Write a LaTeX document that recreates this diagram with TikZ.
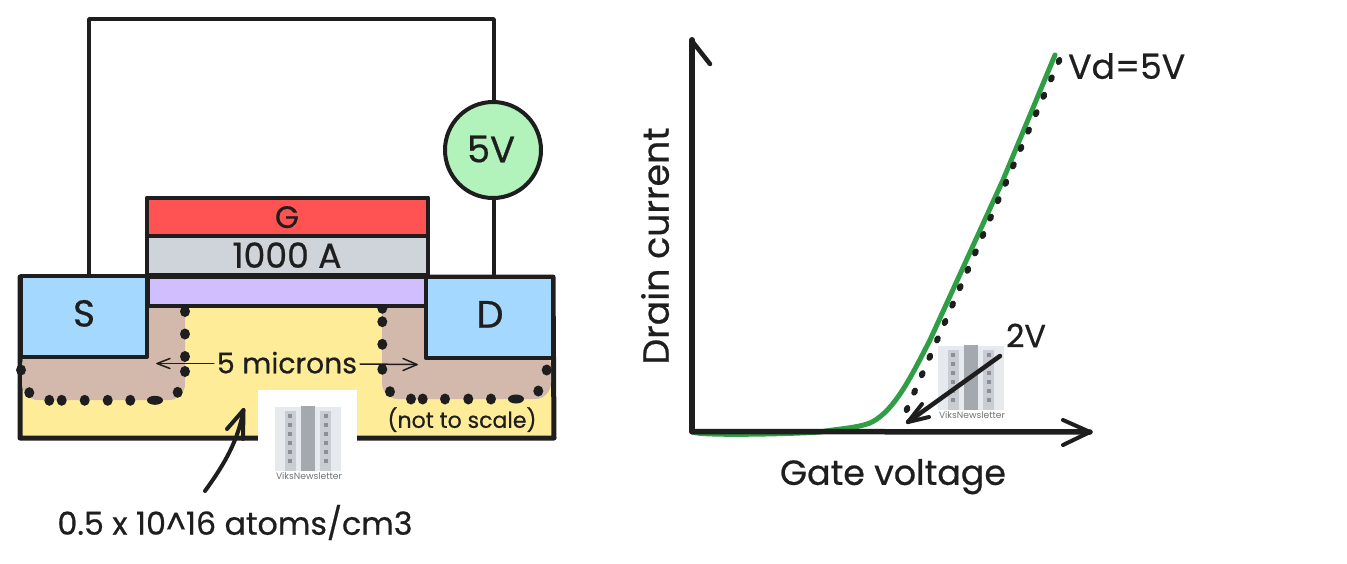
\documentclass[tikz,border=0pt]{standalone}
\usepackage{fontspec}
\usepackage{graphicx}
\setmainfont{Poppins}[FakeBold=0.6]
\newfontfamily\thinfont{Poppins}
\definecolor{ink}{HTML}{1E1E1E}
\definecolor{cyellow}{HTML}{FFEC99}
\definecolor{cbrown}{HTML}{D3B8AC}
\definecolor{cblue}{HTML}{A5D8FF}
\definecolor{cred}{HTML}{FF5252}
\definecolor{cgray}{HTML}{CED4DA}
\definecolor{cpurple}{HTML}{D0BFFF}
\definecolor{cgreen}{HTML}{B2F2BB}
\definecolor{lgreen}{HTML}{2F9E44}
\definecolor{iconbg}{HTML}{E6E9ED}
\definecolor{iconmid}{HTML}{A4A9B0}
\definecolor{iconstrip}{HTML}{C9CCD3}
\definecolor{iconsq}{HTML}{8B8F96}
\newcommand{\fitw}[2]{\resizebox{#1pt}{!}{\strut #2}}
\tikzset{
  txt/.style={text=ink, inner sep=0pt, yshift=-3.5pt},
  layer/.style={draw=ink, line width=4.5pt, line join=round, inner sep=0pt},
  wire/.style={draw=ink, line width=3.5pt, line join=round},
  thickline/.style={draw=ink, line width=4pt, line cap=round, line join=round},
  axisline/.style={draw=ink, line width=6pt, line cap=round, line join=round},
  thinarrow/.style={draw=ink, line width=1.5pt, line cap=round, line join=round},
  dot/.style={fill=ink, draw=none},
}
\newcommand{\viksicon}[2]{%
  \begin{scope}[shift={(#1,#2)}]
    \fill[iconbg] (275,407) rectangle (341,471);
    \fill[iconstrip] (285,411) rectangle (296,471);
    \fill[iconstrip] (320,411) rectangle (331,471);
    \fill[iconmid] (301,406) rectangle (315,471);
    \foreach \yy in {416,425,434,443,452,461}{
      \fill[iconsq] (288.2,\yy-1.7) rectangle (291.6,\yy+1.7);
      \fill[iconsq] (324.2,\yy-1.7) rectangle (327.6,\yy+1.7);
    }
    \node[text=iconsq!80!black, inner sep=0pt] at (309,477.5) {\fitw{66}{\thinfont ViksNewsletter}};
  \end{scope}}
\begin{document}
\begin{tikzpicture}[x=1pt,y=-1pt]
\useasboundingbox (0,0) rectangle (1347,563);
% substrate
\draw[layer, line width=5pt, fill=cyellow] (20,277) -- (553,277) -- (554,438) -- (20,438) -- cycle;
% depletion regions
\fill[cbrown, rounded corners=16pt] (146,300) -- (185,300) -- (185,400) -- (22,400) -- (22,350) -- (146,350) -- cycle;
\fill[cbrown, rounded corners=16pt] (428,300) -- (382,300) -- (382,399) -- (551,399) -- (551,350) -- (428,350) -- cycle;
\foreach \px/\py in {185/311.5,185/334,185/356.5,185/371.5,177.7/392.3,130.3/400.3,107.7/400.3,84.7/400.3,61.7/400.3,49.3/400.3,29.3/392.7,21/370}{
  \fill[dot] (\px,\py) ellipse (5pt and 5.5pt);}
\foreach \px/\py in {382.3/308.3,382.3/321.7,382.3/344.3,382.3/369.3,390/391.7,411/399,422.7/399,445/399,468.3/399,491/399,538.3/391,546.7/370}{
  \fill[dot] (\px,\py) ellipse (5pt and 5.5pt);}
\fill[dot] (155,400.3) ellipse (8pt and 4.5pt);
\fill[dot] (516,399) ellipse (8pt and 4.5pt);
% gate stack
\node[layer, fill=cpurple, minimum width=279pt, minimum height=29pt, anchor=center] (oxide2) at (287.5,291.5) {};
\node[layer, line width=4pt, fill=cgray, minimum width=281pt, minimum height=40pt] (oxide) at (287.5,255.5) {};
\node[layer, line width=4pt, fill=cred, minimum width=281pt, minimum height=38pt] (gate) at (287.5,216.5) {};
\draw[draw=ink, line width=6.5pt] (147,276) -- (428,276);
% source and drain
\node[layer, line width=4pt, fill=cblue, minimum width=126pt, minimum height=81pt] (S) at (84,316.5) {};
\node[layer, line width=4.5pt, fill=cblue, minimum width=127pt, minimum height=81pt] (D) at (489.5,317.5) {};
% battery
\node[circle, draw=ink, line width=4pt, fill=cgreen, minimum size=96pt, inner sep=0pt] (V) at (493,150) {};
\coordinate (wl) at (89,19);
\coordinate (wr) at (494,19);
\draw[wire] (S.north -| wl) -- (wl) -- (wr) -- (V.north -| wr);
\draw[wire] (V.south -| wr) -- (D.north -| wr);
% labels
\node[txt] (lV) at (491,150) {\fitw{48}{5V}};
\node[txt] (lG) at (287,217) {\fitw{24}{G}};
\node[txt] (lA) at (287,256) {\fitw{109}{1000 A}};
\node[txt] (lS) at (84,314) {\fitw{22}{S}};
\node[txt] (lD) at (490,315) {\fitw{27}{D}};
\node[txt] (lM) at (287,363) {\fitw{140}{5 microns}};
\coordinate (ml) at (157,363.5);
\coordinate (mr) at (417,364.5);
\draw[thinarrow] (lM.west) ++(-3,-3) -- (ml);
\draw[thinarrow] (ml) ++(13,-5) -- (ml) -- ++(13,5);
\draw[thinarrow] (lM.east) ++(3,-2.5) -- (mr);
\draw[thinarrow] (mr) ++(-14,-6) -- (mr) -- ++(-14,6);
\node[txt] (lN) at (462,418) {\fitw{149}{(not to scale)}};
% watermark 1
\fill[white] (258,390) rectangle (357,490);
\viksicon{0}{0}
% doping arrow
\node[txt] (lC) at (235,522) {\fitw{355}{0.5 x 10\string^16 atoms/cm3}};
\coordinate (ct) at (243.5,410);
\coordinate (cs) at (205,491);
\draw[thickline] (cs) .. controls (226,462) and (238,440) .. (ct);
\draw[thickline] (227,429) -- (ct) -- (243,439);
% axes
\coordinate (o) at (692,431.5);
\coordinate (ay) at (692,40);
\coordinate (ax) at (1090,432);
\draw[line width=5pt, lgreen, line cap=round, line join=round] (693,432) .. controls (700,436) and (790,434) .. (820,432)
  .. controls (835,429) and (860,428) .. (872,422) .. controls (895,410) and (912,375) .. (930,340) -- (1003,180) -- (1055,55);
\draw[axisline] (ay) -- (o);
\draw[axisline, line width=4.5pt] (ay) ++(0,1) -- (710,64);
\draw[line width=5.5pt, draw=ink, line cap=round, line join=round] (o) -- (ax);
\draw[line width=4pt, draw=ink, line cap=round, line join=round] (1063,420) -- (ax) -- (1063,445);
\foreach \i in {0,...,20}{
  \fill[dot, rotate around={-22:(1059-7.6*\i,61+17.4*\i)}] (1059-7.6*\i,61+17.4*\i) ellipse (3.2pt and 4.2pt);}
\node[txt, rotate=90] (lI) at (660,242.5) {\fitw{237}{Drain current}};
\node[txt] (lX) at (893,473) {\fitw{226}{Gate voltage}};
\node[txt, anchor=west] (lVd) at (1068,67) {\fitw{117}{Vd=5V}};
% watermark 2 and arrow
\viksicon{663}{-61}
\node[txt] (l2) at (1026,336) {\fitw{40}{2V}};
\coordinate (t2) at (908,422);
\coordinate (s2) at (1000,356);
\draw[thickline, line width=4.5pt] (s2) -- (t2);
\draw[thickline] (922,404) -- (t2) -- (929,417);
\end{tikzpicture}
\end{document}
